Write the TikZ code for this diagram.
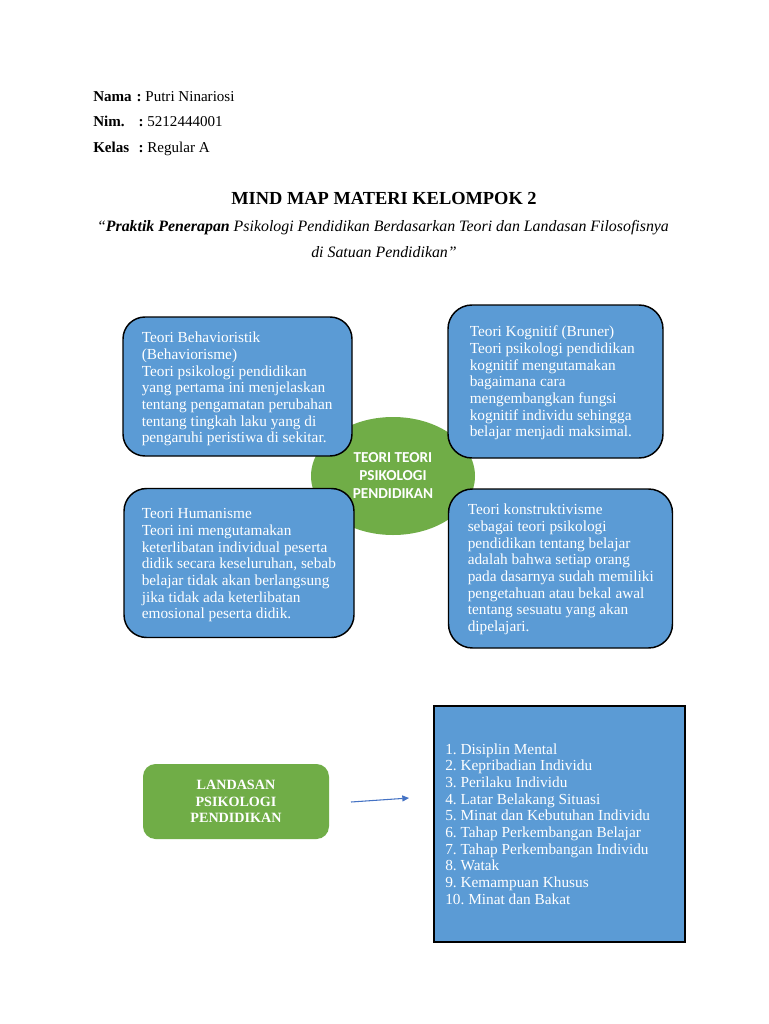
\documentclass[tikz,border=0pt]{standalone}
\usepackage{fontspec}
\setmainfont{Liberation Serif}
\newfontfamily\calibri{Carlito}
\usetikzlibrary{shapes.geometric,arrows.meta}
\definecolor{boxblue}{RGB}{91,155,213}
\definecolor{boxgreen}{RGB}{112,173,71}
\definecolor{arrowblue}{RGB}{68,114,196}
\frenchspacing
\tikzset{
  hdr/.style={inner sep=0pt, anchor=base west, font=\fontsize{11.3}{13}\selectfont},
  bluebox/.style={draw=black, line width=1.1pt, fill=boxblue, rounded corners=#1, inner sep=0pt},
  boxtxt/.style={inner sep=0pt, anchor=west, align=left, text=white, font=\fontsize{11.5}{12.5}\selectfont},
  arr/.style={draw=arrowblue, line width=0.8pt, -{Triangle[length=5pt,width=4.5pt]}}
}
\begin{document}
\begin{tikzpicture}[x=0.75pt,y=-0.75pt]
\useasboundingbox[fill=white] (0,0) rectangle (768,1024);

% header
\node[hdr] (nama) at (93,101) {\makebox[32.5pt][l]{\textbf{Nama}}\textbf{:} Putri Ninariosi};
\node[hdr] (nim) at (93,126.5) {\makebox[34pt][l]{\textbf{Nim.}}\textbf{:} 5212444001};
\node[hdr] (kelas) at (93,152) {\makebox[34pt][l]{\textbf{Kelas}}\textbf{:} Regular A};

% title
\node[inner sep=0pt, anchor=base] (title) at (384,204) {\fontsize{13.8}{16}\selectfont\bfseries MIND MAP MATERI KELOMPOK 2};
\node[inner sep=0pt, anchor=base] (sub1) at (383,231) {\fontsize{11.9}{13}\selectfont\itshape “\textbf{Praktik Penerapan} Psikologi Pendidikan Berdasarkan Teori dan Landasan Filosofisnya};
\node[inner sep=0pt, anchor=base] (sub2) at (384,257) {\fontsize{11.9}{13}\selectfont\itshape di Satuan Pendidikan”};

% central ellipse
\node[ellipse, fill=boxgreen, minimum width=123pt, minimum height=88.5pt, inner sep=0pt,
      align=center, text=white, font=\calibri\bfseries\fontsize{11.4}{13.5}\selectfont] (center) at (393,476)
      {TEORI TEORI\\PSIKOLOGI\\PENDIDIKAN};

% four theory boxes
\node[bluebox=16.5pt, minimum width=171.75pt, minimum height=104.25pt] (b1) at (237.5,386.5) {};
\node[boxtxt] (t1) at (141.5,389) {Teori Behavioristik\\(Behaviorisme)\\Teori psikologi pendidikan\\yang pertama ini menjelaskan\\tentang pengamatan perubahan\\tentang tingkah laku yang di\\pengaruhi peristiwa di sekitar.};

\node[bluebox=18pt, minimum width=161.25pt, minimum height=114.75pt] (b2) at (555.5,381.5) {};
\node[boxtxt] (t2) at (469.5,383) {Teori Kognitif (Bruner)\\Teori psikologi pendidikan\\kognitif mengutamakan\\bagaimana cara\\mengembangkan fungsi\\kognitif individu sehingga\\belajar menjadi maksimal.};

\node[bluebox=17pt, minimum width=172.5pt, minimum height=111.75pt] (b3) at (239,563) {};
\node[boxtxt] (t3) at (141.5,565.5) {Teori Humanisme\\Teori ini mengutamakan\\keterlibatan individual peserta\\didik secara keseluruhan, sebab\\belajar tidak akan berlangsung\\jika tidak ada keterlibatan\\emosional peserta didik.};

\node[bluebox=18pt, minimum width=168pt, minimum height=119.25pt] (b4) at (560.5,568.5) {};
\node[boxtxt] (t4) at (467.5,569.5) {Teori konstruktivisme\\sebagai teori psikologi\\pendidikan tentang belajar\\adalah bahwa setiap orang\\pada dasarnya sudah memiliki\\pengetahuan atau bekal awal\\tentang sesuatu yang akan\\dipelajari.};

% bottom part
\node[fill=boxgreen, rounded corners=9.4pt, minimum width=139.5pt, minimum height=56.25pt, inner sep=0pt,
      align=center, text=white, font=\fontsize{10.6}{12.5}\selectfont\bfseries] (land) at (236,801.5)
      {LANDASAN\\PSIKOLOGI\\PENDIDIKAN};

\node[draw=black, line width=1.1pt, fill=boxblue, minimum width=188.25pt, minimum height=177pt, inner sep=0pt] (list) at (559.5,824) {};
\node[boxtxt] (items) at (445,824) {1. Disiplin Mental\\2. Kepribadian Individu\\3. Perilaku Individu\\4. Latar Belakang Situasi\\5. Minat dan Kebutuhan Individu\\6. Tahap Perkembangan Belajar\\7. Tahap Perkembangan Individu\\8. Watak\\9. Kemampuan Khusus\\10. Minat dan Bakat};

\coordinate (a1) at (351,802);
\coordinate (a2) at (409,798);
\draw[arr] (a1) -- (a2);
\end{tikzpicture}
\end{document}
